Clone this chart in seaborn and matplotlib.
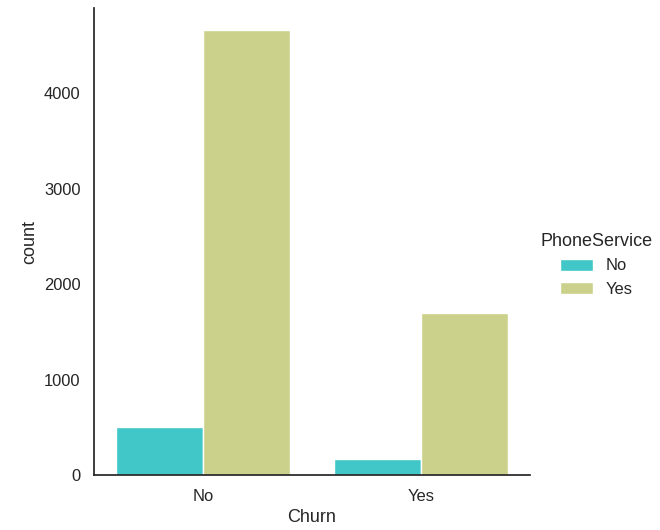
import matplotlib
matplotlib.use("Agg")
import matplotlib.pyplot as plt
import seaborn as sns
import pandas as pd

churn = ["No", "No", "Yes", "Yes"]
phone_service = ["No", "Yes", "No", "Yes"]
counts = [512, 4662, 170, 1699]

df = pd.DataFrame({"Churn": churn, "PhoneService": phone_service, "count": counts})

sns.set_theme(style="white", font_scale=1.08)
plt.rcParams["font.family"] = ["Liberation Sans", "DejaVu Sans"]
g = sns.catplot(data=df, x="Churn", y="count", hue="PhoneService", kind="bar",
                palette="rainbow", errorbar=None, height=5, aspect=1)
g.figure.set_size_inches(6.6, 5.3)
g.figure.subplots_adjust(left=0.142, right=0.803, top=0.985, bottom=0.103)
sns.move_legend(g, "center left", bbox_to_anchor=(0.796, 0.5))
g.figure.savefig("out.png", dpi=100)
